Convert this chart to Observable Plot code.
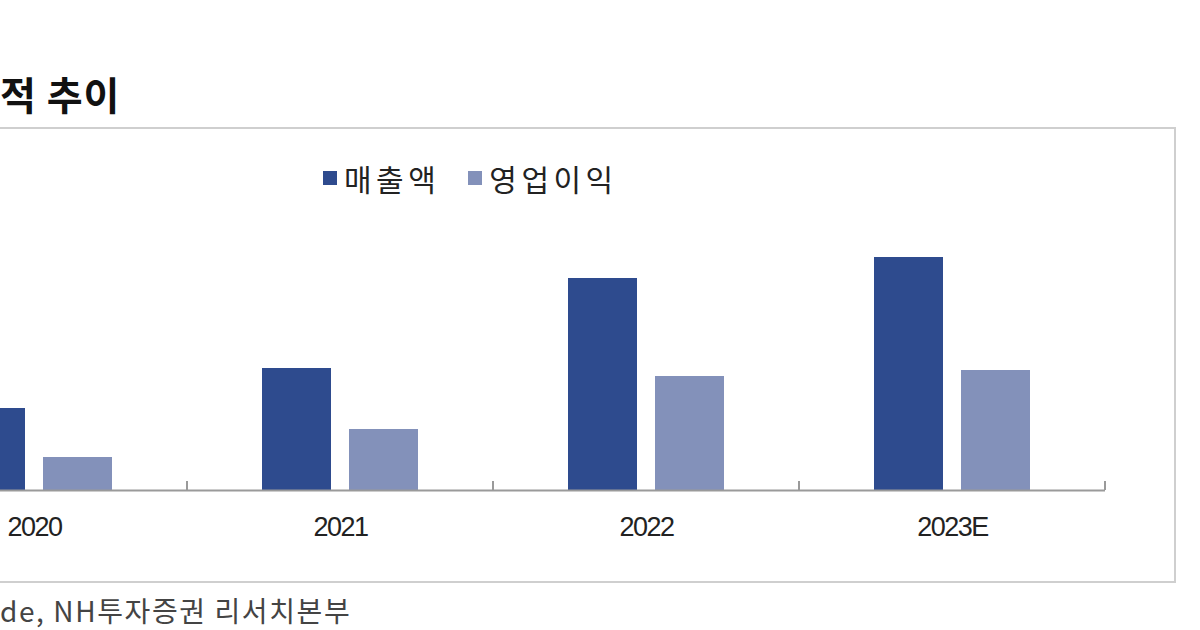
<!DOCTYPE html>
<html><head><meta charset="utf-8">
<script src="https://cdn.jsdelivr.net/npm/d3@7"></script>
<script src="https://cdn.jsdelivr.net/npm/@observablehq/plot@0.6"></script>
<style>
body{margin:0;width:1200px;height:630px;overflow:hidden;background:#fff;position:relative;font-family:"Noto Sans CJK KR",sans-serif;}
#title{position:absolute;left:0;top:74px;font-size:39px;font-weight:700;color:#111;line-height:1;white-space:nowrap;letter-spacing:1px;}
#box{position:absolute;left:-10px;top:127px;width:1186px;height:456px;box-sizing:border-box;border:2px solid #cfcfcf;}
#legend{position:absolute;left:323px;top:163px;display:flex;align-items:center;font-size:30px;letter-spacing:4.5px;color:#222;line-height:1;white-space:nowrap;}
#legend .item{display:flex;align-items:center;margin-right:28px;}
#legend .sw{width:14px;height:14px;margin-right:7px;}
#chart{position:absolute;left:-119px;top:230px;}
#source{position:absolute;left:0;top:596px;font-size:28px;color:#444;line-height:1;white-space:nowrap;letter-spacing:1.6px;}
</style>
</head><body>
<div id="title">적 추이</div>
<div id="box"></div>
<div id="legend"></div>
<div id="chart"></div>
<div id="source">de, NH투자증권 리서치본부</div>
<script>
const years = ["2020", "2021", "2022", "2023E"];
const series = ["매출액", "영업이익"];
const sales = [82, 122, 212, 233];
const opProfit = [33, 61, 114, 120];
const colors = ["#2E4B8E", "#8391BA"];

const data = years.flatMap((y, i) => [
  {year: y, series: series[0], value: sales[i]},
  {year: y, series: series[1], value: opProfit[i]}
]);

const legend = document.getElementById("legend");
series.forEach((s, i) => {
  const item = document.createElement("div");
  item.className = "item";
  const sw = document.createElement("span");
  sw.className = "sw";
  sw.style.background = colors[i];
  const t = document.createElement("span");
  t.textContent = s;
  item.appendChild(sw); item.appendChild(t);
  legend.appendChild(item);
});

const chart = Plot.plot({
  width: 1224, height: 320,
  marginLeft: 0, marginRight: 0, marginTop: 10, marginBottom: 60,
  fx: {domain: years, padding: 0, label: null},
  x: {domain: series, paddingInner: 0.207, paddingOuter: 0.862, axis: null},
  y: {domain: [0, 250], axis: null},
  color: {domain: series, range: colors},
  style: {fontFamily: "'Liberation Sans', Arial, sans-serif", fontSize: "27px", color: "#222", background: "transparent", overflow: "visible"},
  marks: [
    Plot.barY(data, {fx: "year", x: "series", y: "value", fill: "series", inset: 0}),
    Plot.ruleY([0], {stroke: "#9a9a9a", strokeWidth: 2}),
    Plot.axisFx({anchor: "bottom", tickSize: 0, tickPadding: 26, label: null, fontSize: 27})
  ]
});

const svg = d3.select(chart.tagName === "svg" ? chart : chart.querySelector("svg"));
svg.selectAll("text").attr("letter-spacing", "-1.5").attr("fill", "#222");
const fx = chart.scale("fx");
const y = chart.scale("y");
const base = y.apply(0);
const edges = [fx.apply(years[0])].concat(years.map(d => fx.apply(d) + fx.bandwidth));
svg.append("g").selectAll("line").data(edges).join("line")
  .attr("x1", d => d).attr("x2", d => d)
  .attr("y1", base).attr("y2", base - 9)
  .attr("stroke", "#9a9a9a").attr("stroke-width", 2);

document.getElementById("chart").appendChild(chart);
</script>
</body></html>
